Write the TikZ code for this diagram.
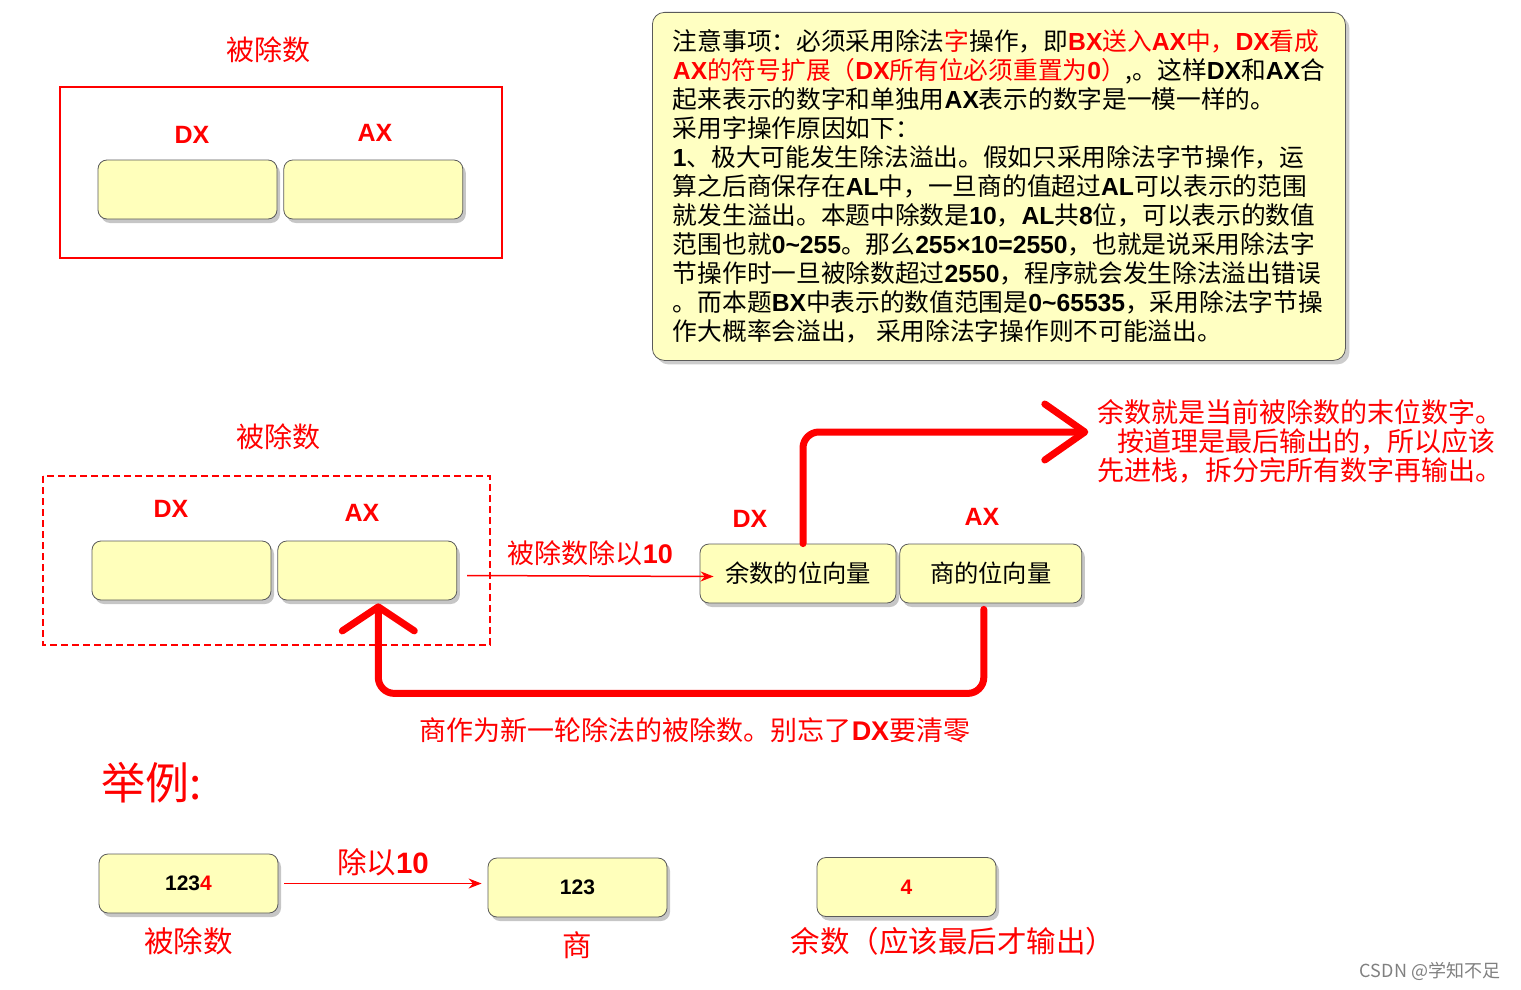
\documentclass[tikz,border=0pt]{standalone}
\usepackage{fontspec}
\setmainfont{Noto Sans CJK SC}
\newfontfamily\enfont{Liberation Sans}
\usepackage{tikz}
\usetikzlibrary{arrows.meta,positioning,shadows}

\definecolor{regfill}{RGB}{255,255,187}
\definecolor{notefill}{RGB}{255,255,194}
\definecolor{edgegray}{RGB}{90,90,90}
\newcommand\en[1]{{\enfont\bfseries #1}}
\newcommand\rd[1]{\textcolor{red}{#1}}

\begin{document}
\begin{tikzpicture}[x=1pt, y=-1pt, >=Stealth,
	   reg/.style={draw=edgegray, fill=regfill, rounded corners=9pt, line width=0.8pt,
	     minimum width=179pt, minimum height=59pt, font=\fontsize{24.3}{27}\selectfont,
	     drop shadow={shadow xshift=3pt, shadow yshift=-4pt, opacity=.45}},
	   note/.style={draw=edgegray, fill=notefill, rounded corners=12pt, line width=0.8pt,
	     align=left, inner xsep=19pt, inner ysep=14pt, minimum width=693pt, minimum height=348pt,
	     font=\fontsize{24.7}{29}\selectfont,
	     drop shadow={shadow xshift=4pt, shadow yshift=-4pt, opacity=.4}},
	   lbl/.style={text=red, inner sep=1pt, font=\fontsize{27}{29}\selectfont},
	   biglbl/.style={lbl, font=\fontsize{29.5}{31}\selectfont},
	   reglbl/.style={text=red, inner sep=1pt, font=\fontsize{25}{28}\selectfont\enfont\bfseries},
	   arr/.style={red, line width=1.5pt, -{Stealth[length=13pt, width=10pt]}},
	   bigarr/.style={red, line width=7pt, line cap=round, line join=round, rounded corners=16pt}]
	  \useasboundingbox (0,0) rectangle (1521,990);

	  % top: DX:AX pair
	  \node[lbl, font=\fontsize{28}{30}\selectfont] (top) at (268,50) {被除数};
	  \draw[red, line width=1.4pt] (60,87) rectangle (502,258);
	  \node[reg] (dx1) at (187.5,189.5) {};
	  \node[reg, right=6pt of dx1] (ax1) {};
	  \node[reglbl] (dx1t) at (192,135) {DX};
	  \node[reglbl] (ax1t) at (375,133) {AX};

	  % note
	  \node[note, anchor=north west] (note) at (652,12) {%
	  注意事项：必须采用除法\rd{字}操作，即\rd{\en{BX}送入\en{AX}中，\en{DX}看成}\\
	  \rd{\en{AX}的符号扩展（\en{DX}所有位必须重置为\en{0}）},。这样\en{DX}和\en{AX}合\\
	  起来表示的数字和单独用\en{AX}表示的数字是一模一样的。\\
	  采用字操作原因如下：\\
	  \en{1}、极大可能发生除法溢出。假如只采用除法字节操作，运\\
	  算之后商保存在\en{AL}中，一旦商的值超过\en{AL}可以表示的范围\\
	  就发生溢出。本题中除数是\en{10}，\en{AL}共\en{8}位，可以表示的数值\\
	  范围也就\en{0\textasciitilde255}。那么\en{255×10=2550}，也就是说采用除法字\\
	  节操作时一旦被除数超过\en{2550}，程序就会发生除法溢出错误\\
	  。而本题\en{BX}中表示的数值范围是\en{0\textasciitilde65535}，采用除法字节操\\
	  作大概率会溢出， 采用除法字操作则不可能溢出。};

	  % middle: one division step
	  \node[lbl, font=\fontsize{28}{30}\selectfont] (mid) at (278,437) {被除数};
	  \draw[red, line width=1.4pt, dash pattern=on 7pt off 4pt] (43,476) rectangle (490,645);
	  \node[reg] (dx2) at (181.5,570.5) {};
	  \node[reg, right=6pt of dx2] (ax2) {};
	  \node[reglbl] (dx2t) at (171,509) {DX};
	  \node[reglbl] (ax2t) at (362,513) {AX};

	  \node[reg, minimum width=196pt] (rem) at (798,573.5) {余数的位向量};
	  \node[reg, minimum width=182pt, right=3pt of rem] (quo) {商的位向量};
	  \node[reglbl] (remt) at (750,519) {DX};
	  \node[reglbl] (quot) at (982,517) {AX};

	  \draw[arr] ([xshift=10pt,yshift=-5pt]ax2.east) -- node[lbl, above=8pt] (divlbl) {被除数除以\en{10}}
	    ([xshift=14pt,yshift=-3pt]rem.west);

	  \node[lbl, align=center] (remnote) at (1300,441)
	    {余数就是当前被除数的末位数字。\\ \hspace{12pt}按道理是最后输出的，所以应该\\ 先进栈，拆分完所有数字再输出。};
	  \draw[bigarr, -{Straight Barb[length=40pt, width=56pt, round]}]
	    ([xshift=5pt]rem.north) |- ([xshift=-8pt,yshift=9pt]remnote.west);

	  \draw[bigarr, -{Straight Barb[length=24pt, width=72pt, round]}]
	    ([xshift=-7pt,yshift=-6pt]quo.south) -- ++(0,84) -| ([xshift=11pt,yshift=-3pt]ax2.south);
	  \node[lbl] (back) at (695,730) {商作为新一轮除法的被除数。别忘了\en{DX}要清零};

	  % example
	  \node[lbl, font=\fontsize{44}{48}\selectfont] (eg) at (152,783) {举例:};
	  \node[reg, font=\fontsize{21}{24}\selectfont] (n1234) at (188.5,883.5) {\en{123\rd{4}}};
	  \node[reg, font=\fontsize{21}{24}\selectfont] (n123) at (577.5,887.5) {\en{123}};
	  \node[reg, font=\fontsize{21}{24}\selectfont] (n4) at (906.5,887) {\en{\rd{4}}};
	  \draw[arr] ([xshift=6pt]n1234.east) -- node[biglbl, above=6pt] (div10) {除以\en{10}}
	    ([xshift=-6pt]n1234.east -| n123.west);
	  \node[biglbl, below=13pt of n1234] (n1234b) {被除数};
	  \node[biglbl, below=13pt of n123] (n123b) {商};
	  \node[biglbl] (n4b) at (953,941) {余数（应该最后才输出）};

	  \node[text=gray, font=\fontsize{18}{20}\selectfont] (wm) at (1430,971) {CSDN @学知不足};
	\end{tikzpicture}
\end{document}
